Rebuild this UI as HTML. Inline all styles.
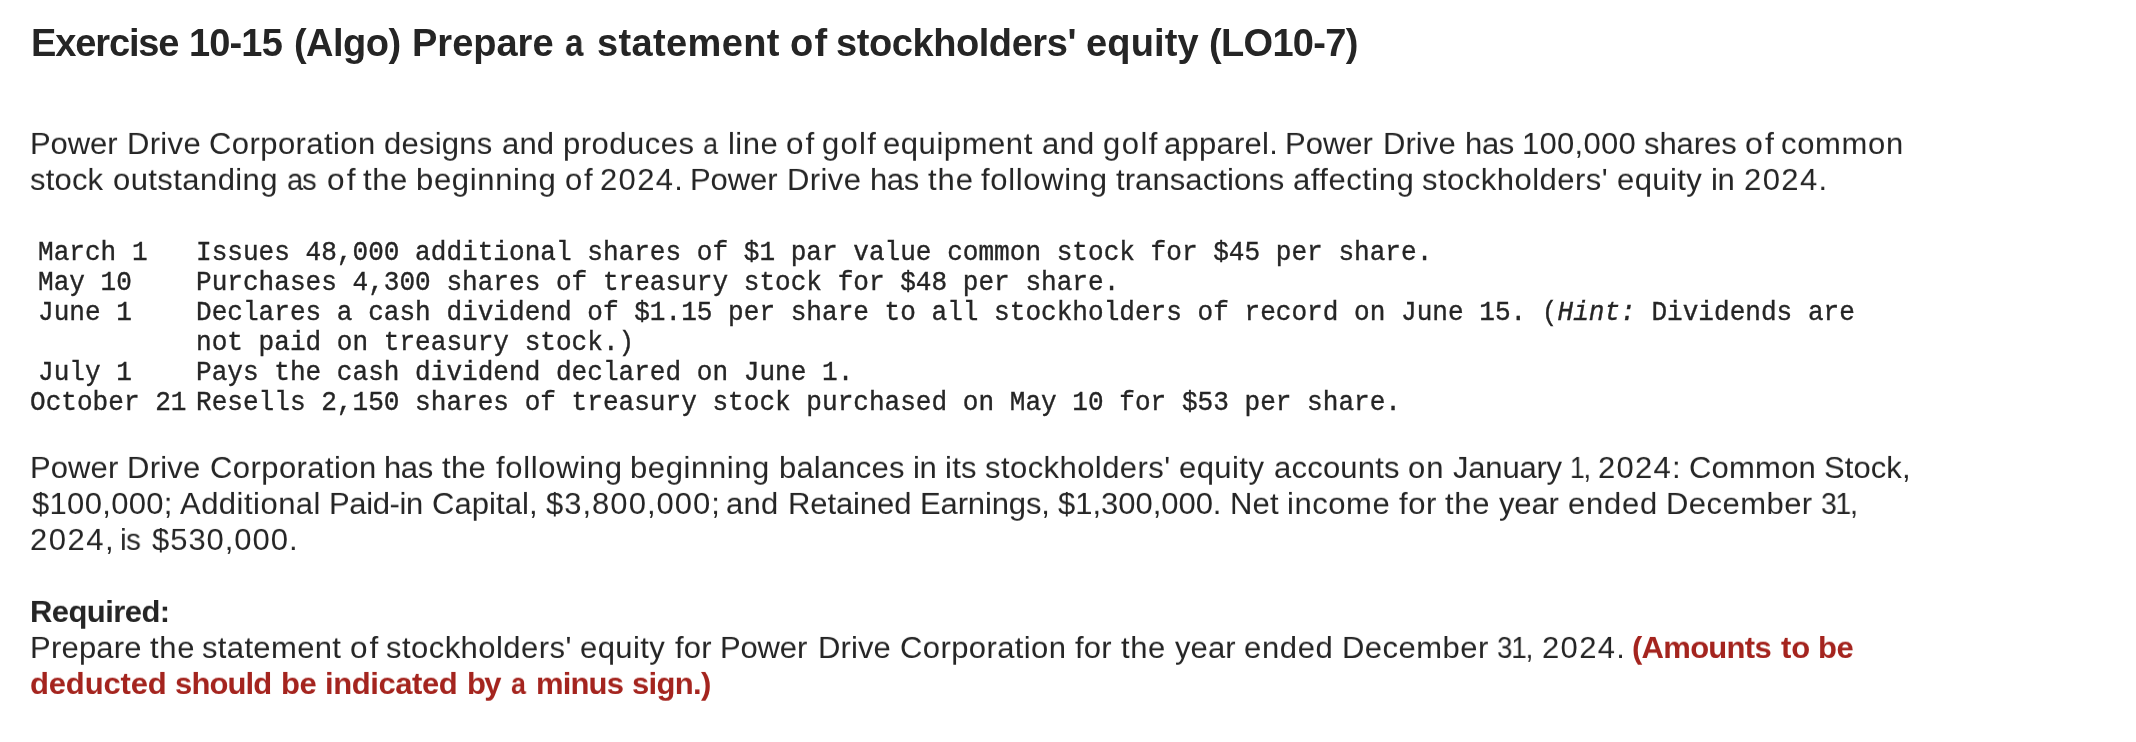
<!DOCTYPE html>
<html>
<head>
<meta charset="utf-8">
<style>
html, body { margin: 0; padding: 0; background: #ffffff; }
body { width: 2136px; height: 742px; position: relative; overflow: hidden; color: #252525; font-family: "Liberation Sans", sans-serif; }
.l { will-change: transform; position: absolute; white-space: nowrap; left: 30px; line-height: 40px; height: 40px; }
.t { font-weight: bold; font-size: 38px; transform-origin: 0 33px; }
.p { font-size: 31px; transform: scaleY(0.96); transform-origin: 0 30px; }
.m { font-family: "Liberation Mono", monospace; font-size: 26.08px; line-height: 30px; height: 30px; transform: scaleY(1.08); transform-origin: 0 22px; -webkit-text-stroke: 0.35px #252525; }
.b { font-weight: bold; }
.r { color: #a4241e; font-weight: bold; }
</style>
</head>
<body>
<div class="l t" style="top:23px;left:30.5px;letter-spacing:-1.129px">Exercise</div>
<div class="l t" style="top:23px;left:188.9px;letter-spacing:-0.850px">10-15</div>
<div class="l t" style="top:23px;left:293.5px;letter-spacing:-0.540px">(Algo)</div>
<div class="l t" style="top:23px;left:412.0px;letter-spacing:0.000px">Prepare</div>
<div class="l t" style="top:23px;left:564.8px;letter-spacing:0.000px;transform:scale(0.871,1.0)">a</div>
<div class="l t" style="top:23px;left:597.0px;letter-spacing:0.375px">statement</div>
<div class="l t" style="top:23px;left:790.1px;letter-spacing:1.215px">of</div>
<div class="l t" style="top:23px;left:835.6px;letter-spacing:-0.425px">stockholders&#x27;</div>
<div class="l t" style="top:23px;left:1086.0px;letter-spacing:0.160px">equity</div>
<div class="l t" style="top:23px;left:1208.7px;letter-spacing:-0.671px">(LO10-7)</div>
<div class="l p" style="top:124px;left:30.0px;letter-spacing:-0.100px">Power</div>
<div class="l p" style="top:124px;left:126.8px;letter-spacing:0.325px">Drive</div>
<div class="l p" style="top:124px;left:209.3px;letter-spacing:0.430px">Corporation</div>
<div class="l p" style="top:124px;left:384.2px;letter-spacing:0.250px">designs</div>
<div class="l p" style="top:124px;left:501.7px;letter-spacing:0.150px">and</div>
<div class="l p" style="top:124px;left:562.6px;letter-spacing:0.500px">produces</div>
<div class="l p" style="top:124px;left:702.7px;letter-spacing:0.000px;transform:scale(0.871,0.96)">a</div>
<div class="l p" style="top:124px;left:728.3px;letter-spacing:0.467px">line</div>
<div class="l p" style="top:124px;left:786.2px;letter-spacing:1.998px;transform:scale(1.015,0.96)">of</div>
<div class="l p" style="top:124px;left:822.4px;letter-spacing:1.300px">golf</div>
<div class="l p" style="top:124px;left:883.3px;letter-spacing:0.562px">equipment</div>
<div class="l p" style="top:124px;left:1041.5px;letter-spacing:0.250px">and</div>
<div class="l p" style="top:124px;left:1102.6px;letter-spacing:1.500px">golf</div>
<div class="l p" style="top:124px;left:1164.0px;letter-spacing:0.257px">apparel.</div>
<div class="l p" style="top:124px;left:1285.4px;letter-spacing:0.000px">Power</div>
<div class="l p" style="top:124px;left:1383.0px;letter-spacing:0.075px">Drive</div>
<div class="l p" style="top:124px;left:1464.5px;letter-spacing:-0.350px">has</div>
<div class="l p" style="top:124px;left:1521.7px;letter-spacing:0.283px">100,000</div>
<div class="l p" style="top:124px;left:1644.4px;letter-spacing:-0.060px">shares</div>
<div class="l p" style="top:124px;left:1745.4px;letter-spacing:1.998px;transform:scale(1.037,0.96)">of</div>
<div class="l p" style="top:124px;left:1781.2px;letter-spacing:0.660px">common</div>
<div class="l p" style="top:160px;left:30.2px;letter-spacing:0.175px">stock</div>
<div class="l p" style="top:160px;left:113.1px;letter-spacing:0.420px">outstanding</div>
<div class="l p" style="top:160px;left:287.4px;letter-spacing:-1.125px;transform:scale(0.941,0.96)">as</div>
<div class="l p" style="top:160px;left:326.8px;letter-spacing:2.075px;transform:scale(1.019,0.96)">of</div>
<div class="l p" style="top:160px;left:362.7px;letter-spacing:0.600px">the</div>
<div class="l p" style="top:160px;left:415.5px;letter-spacing:0.662px">beginning</div>
<div class="l p" style="top:160px;left:565.0px;letter-spacing:1.700px">of</div>
<div class="l p" style="top:160px;left:600.1px;letter-spacing:1.325px">2024.</div>
<div class="l p" style="top:160px;left:690.4px;letter-spacing:-0.100px">Power</div>
<div class="l p" style="top:160px;left:787.3px;letter-spacing:0.400px">Drive</div>
<div class="l p" style="top:160px;left:869.5px;letter-spacing:-0.400px">has</div>
<div class="l p" style="top:160px;left:927.5px;letter-spacing:0.900px">the</div>
<div class="l p" style="top:160px;left:981.0px;letter-spacing:0.675px">following</div>
<div class="l p" style="top:160px;left:1115.7px;letter-spacing:0.091px">transactions</div>
<div class="l p" style="top:160px;left:1293.3px;letter-spacing:0.500px">affecting</div>
<div class="l p" style="top:160px;left:1422.3px;letter-spacing:0.475px">stockholders&#x27;</div>
<div class="l p" style="top:160px;left:1617.0px;letter-spacing:0.400px">equity</div>
<div class="l p" style="top:160px;left:1710.9px;letter-spacing:-0.300px">in</div>
<div class="l p" style="top:160px;left:1744.2px;letter-spacing:1.400px">2024.</div>
<div class="l p" style="top:448px;left:29.6px;letter-spacing:0.100px">Power</div>
<div class="l p" style="top:448px;left:126.9px;letter-spacing:0.250px">Drive</div>
<div class="l p" style="top:448px;left:209.5px;letter-spacing:0.430px">Corporation</div>
<div class="l p" style="top:448px;left:384.0px;letter-spacing:-0.400px">has</div>
<div class="l p" style="top:448px;left:442.0px;letter-spacing:0.300px">the</div>
<div class="l p" style="top:448px;left:495.5px;letter-spacing:0.675px">following</div>
<div class="l p" style="top:448px;left:630.1px;letter-spacing:0.612px">beginning</div>
<div class="l p" style="top:448px;left:778.8px;letter-spacing:0.186px">balances</div>
<div class="l p" style="top:448px;left:912.7px;letter-spacing:-0.300px">in</div>
<div class="l p" style="top:448px;left:945.0px;letter-spacing:0.250px">its</div>
<div class="l p" style="top:448px;left:985.1px;letter-spacing:0.433px">stockholders&#x27;</div>
<div class="l p" style="top:448px;left:1179.2px;letter-spacing:0.440px">equity</div>
<div class="l p" style="top:448px;left:1273.8px;letter-spacing:0.214px">accounts</div>
<div class="l p" style="top:448px;left:1408.3px;letter-spacing:0.900px">on</div>
<div class="l p" style="top:448px;left:1452.8px;letter-spacing:-0.200px">January</div>
<div class="l p" style="top:448px;left:1569.5px;letter-spacing:-1.316px;transform:scale(0.850,0.96)">1,</div>
<div class="l p" style="top:448px;left:1597.8px;letter-spacing:1.275px">2024:</div>
<div class="l p" style="top:448px;left:1688.5px;letter-spacing:0.220px">Common</div>
<div class="l p" style="top:448px;left:1823.6px;letter-spacing:0.080px">Stock,</div>
<div class="l p" style="top:484px;left:31.6px;letter-spacing:0.312px">$100,000;</div>
<div class="l p" style="top:484px;left:179.5px;letter-spacing:0.478px">Additional</div>
<div class="l p" style="top:484px;left:328.6px;letter-spacing:-0.383px">Paid-in</div>
<div class="l p" style="top:484px;left:431.9px;letter-spacing:0.057px">Capital,</div>
<div class="l p" style="top:484px;left:545.6px;letter-spacing:1.010px">$3,800,000;</div>
<div class="l p" style="top:484px;left:726.0px;letter-spacing:0.250px">and</div>
<div class="l p" style="top:484px;left:787.9px;letter-spacing:-0.100px">Retained</div>
<div class="l p" style="top:484px;left:920.0px;letter-spacing:-0.125px">Earnings,</div>
<div class="l p" style="top:484px;left:1057.9px;letter-spacing:-0.030px">$1,300,000.</div>
<div class="l p" style="top:484px;left:1229.6px;letter-spacing:0.200px">Net</div>
<div class="l p" style="top:484px;left:1287.4px;letter-spacing:0.560px">income</div>
<div class="l p" style="top:484px;left:1398.9px;letter-spacing:0.600px">for</div>
<div class="l p" style="top:484px;left:1445.2px;letter-spacing:0.700px">the</div>
<div class="l p" style="top:484px;left:1499.0px;letter-spacing:-0.133px">year</div>
<div class="l p" style="top:484px;left:1568.0px;letter-spacing:0.750px">ended</div>
<div class="l p" style="top:484px;left:1666.2px;letter-spacing:0.457px">December</div>
<div class="l p" style="top:484px;left:1821.3px;letter-spacing:-1.397px;transform:scale(0.914,0.96)">31,</div>
<div class="l p" style="top:520px;left:30.2px;letter-spacing:1.525px">2024,</div>
<div class="l p" style="top:520px;left:120.3px;letter-spacing:-0.654px;transform:scale(0.961,0.96)">is</div>
<div class="l p" style="top:520px;left:152.0px;letter-spacing:0.950px">$530,000.</div>
<div class="l p b" style="top:592px;left:30.0px;letter-spacing:-0.575px">Required:</div>
<div class="l p" style="top:628px;left:29.6px;letter-spacing:0.217px">Prepare</div>
<div class="l p" style="top:628px;left:149.6px;letter-spacing:0.650px">the</div>
<div class="l p" style="top:628px;left:202.2px;letter-spacing:0.350px">statement</div>
<div class="l p" style="top:628px;left:350.3px;letter-spacing:1.936px;transform:scale(1.017,0.96)">of</div>
<div class="l p" style="top:628px;left:385.6px;letter-spacing:0.450px">stockholders&#x27;</div>
<div class="l p" style="top:628px;left:580.0px;letter-spacing:0.400px">equity</div>
<div class="l p" style="top:628px;left:674.7px;letter-spacing:0.250px">for</div>
<div class="l p" style="top:628px;left:720.2px;letter-spacing:-0.150px">Power</div>
<div class="l p" style="top:628px;left:817.7px;letter-spacing:0.100px">Drive</div>
<div class="l p" style="top:628px;left:899.7px;letter-spacing:0.400px">Corporation</div>
<div class="l p" style="top:628px;left:1075.3px;letter-spacing:0.250px">for</div>
<div class="l p" style="top:628px;left:1121.0px;letter-spacing:0.600px">the</div>
<div class="l p" style="top:628px;left:1174.5px;letter-spacing:0.100px">year</div>
<div class="l p" style="top:628px;left:1243.5px;letter-spacing:0.650px">ended</div>
<div class="l p" style="top:628px;left:1341.9px;letter-spacing:0.471px">December</div>
<div class="l p" style="top:628px;left:1497.0px;letter-spacing:-1.264px;transform:scale(0.894,0.96)">31,</div>
<div class="l p" style="top:628px;left:1541.7px;letter-spacing:1.325px">2024.</div>
<div class="l p r" style="top:628px;left:1632.2px;letter-spacing:-0.714px">(Amounts</div>
<div class="l p r" style="top:628px;left:1780.7px;letter-spacing:-0.100px">to</div>
<div class="l p r" style="top:628px;left:1817.7px;letter-spacing:-0.500px">be</div>
<div class="l p r" style="top:664px;left:30.0px;letter-spacing:-0.157px">deducted</div>
<div class="l p r" style="top:664px;left:174.8px;letter-spacing:-0.860px">should</div>
<div class="l p r" style="top:664px;left:280.5px;letter-spacing:-0.500px">be</div>
<div class="l p r" style="top:664px;left:325.0px;letter-spacing:-0.425px">indicated</div>
<div class="l p r" style="top:664px;left:467.4px;letter-spacing:-1.800px">by</div>
<div class="l p r" style="top:664px;left:510.7px;letter-spacing:0.000px;transform:scale(0.859,0.96)">a</div>
<div class="l p r" style="top:664px;left:536.3px;letter-spacing:-0.850px">minus</div>
<div class="l p r" style="top:664px;left:631.7px;letter-spacing:-0.660px">sign.)</div>
<div class="l m" style="top:238px;left:38px">March 1</div>
<div class="l m" style="top:238px;left:196px">Issues 48,000 additional shares of $1 par value common stock for $45 per share.</div>
<div class="l m" style="top:268px;left:38px">May 10</div>
<div class="l m" style="top:268px;left:196px">Purchases 4,300 shares of treasury stock for $48 per share.</div>
<div class="l m" style="top:298px;left:38px">June 1</div>
<div class="l m" style="top:298px;left:196px">Declares a cash dividend of $1.15 per share to all stockholders of record on June 15. (<i>Hint:</i> Dividends are</div>
<div class="l m" style="top:328px;left:196px">not paid on treasury stock.)</div>
<div class="l m" style="top:358px;left:38px">July 1</div>
<div class="l m" style="top:358px;left:196px">Pays the cash dividend declared on June 1.</div>
<div class="l m" style="top:388px;left:30px">October 21</div>
<div class="l m" style="top:388px;left:196px">Resells 2,150 shares of treasury stock purchased on May 10 for $53 per share.</div>
</body>
</html>
